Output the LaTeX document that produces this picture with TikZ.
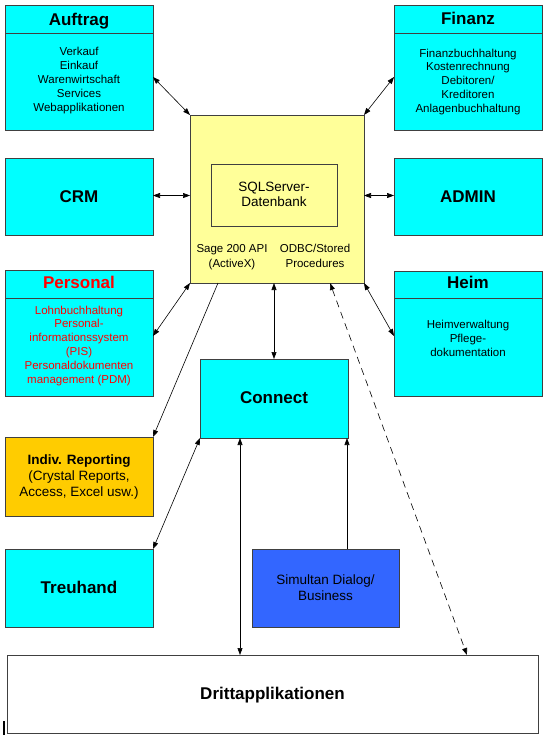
\documentclass[tikz,border=0pt]{standalone}
\usepackage{fontspec}
\setmainfont{Liberation Sans}
\usetikzlibrary{arrows.meta,calc}
\definecolor{boxcyan}{HTML}{00FFFF}
\definecolor{dbyellow}{HTML}{FFFF99}
\definecolor{repgold}{HTML}{FFCC00}
\definecolor{simblue}{HTML}{3366FF}
\definecolor{edgegray}{HTML}{404040}
\definecolor{persred}{HTML}{FF0000}
\begin{document}
\begin{tikzpicture}[x=1pt,y=-1pt,
  box/.style={draw=edgegray, line width=0.9pt, inner sep=0pt, outer sep=0pt, anchor=north west},
  cyanbox/.style={box, fill=boxcyan},
  titletext/.style={anchor=base, inner sep=0pt, font=\fontsize{17}{20}\selectfont\bfseries},
  bodytext/.style={anchor=base, inner sep=0pt, align=center, font=\fontsize{11.5}{14}\selectfont},
  midtext/.style={anchor=base, inner sep=0pt, align=center, font=\fontsize{13.5}{16}\selectfont},
  divider/.style={draw=edgegray, line width=0.9pt},
  link/.style={draw=black, line width=0.6pt, >={Triangle[length=7pt,width=5pt]}},
]
\useasboundingbox (0,0) rectangle (543,737);

% ---- boxes ----
\node[cyanbox, minimum width=148pt, minimum height=125pt] (auftrag) at (5,5) {};
\node[cyanbox, minimum width=148pt, minimum height=125pt] (finanz) at (394,5) {};
\node[box, fill=dbyellow, minimum width=174pt, minimum height=168pt] (sql) at (190,115) {};
\node[box, fill=dbyellow, minimum width=126pt, minimum height=62pt] (dbinner) at (211,164) {};
\node[cyanbox, minimum width=148pt, minimum height=77pt] (crm) at (5,158) {};
\node[cyanbox, minimum width=148pt, minimum height=77pt] (admin) at (394,158) {};
\node[cyanbox, minimum width=148pt, minimum height=126pt] (personal) at (5,270) {};
\node[cyanbox, minimum width=148pt, minimum height=125pt] (heim) at (394,271) {};
\node[cyanbox, minimum width=148pt, minimum height=79pt] (connect) at (200,359) {};
\node[box, fill=repgold, minimum width=148pt, minimum height=79pt] (indiv) at (5,437) {};
\node[cyanbox, minimum width=148pt, minimum height=78pt] (treuhand) at (5,549) {};
\node[box, fill=simblue, minimum width=147pt, minimum height=78pt] (simultan) at (252,549) {};
\node[box, fill=white, minimum width=531pt, minimum height=78pt] (dritt) at (7,655) {};

% ---- title dividers ----
\draw[divider] ([yshift=-28pt]auftrag.north west) -- ([yshift=-28pt]auftrag.north east);
\draw[divider] ([yshift=-28pt]finanz.north west) -- ([yshift=-28pt]finanz.north east);
\draw[divider] ([yshift=-28pt]personal.north west) -- ([yshift=-28pt]personal.north east);
\draw[divider] ([yshift=-27pt]heim.north west) -- ([yshift=-27pt]heim.north east);

% ---- texts (multi-line nodes: anchor=base is the last line's baseline) ----
\node[titletext] (tauftrag) at (79,25) {Auftrag};
\node[bodytext] (bauftrag) at (79,111) {Verkauf\\Einkauf\\Warenwirtschaft\\Services\\Webapplikationen};
\node[titletext] (tfinanz) at (468,24) {Finanz};
\node[bodytext, font=\fontsize{11.5}{13.75}\selectfont] (bfinanz) at (468,112) {Finanzbuchhaltung\\Kostenrechnung\\Debitoren/\\Kreditoren\\Anlagenbuchhaltung};
\node[titletext] (tcrm) at (79,202) {CRM};
\node[titletext] (tadmin) at (468,202) {ADMIN};
\node[titletext, text=persred] (tpersonal) at (79,288) {Personal};
\node[bodytext, text=persred, font=\fontsize{11.5}{13.9}\selectfont] (bpersonal) at (79,383.5) {Lohnbuchhaltung\\Personal-\\informationssystem\\(PIS)\\Personaldokumenten\\management (PDM)};
\node[titletext] (theim) at (468,288) {Heim};
\node[bodytext, font=\fontsize{11.5}{14.2}\selectfont] (bheim) at (468,356.5) {Heimverwaltung\\Pflege-\\dokumentation};
\node[midtext, font=\fontsize{13.5}{15}\selectfont] (tsql) at (274,206) {SQLServer-\\Datenbank};
\node[bodytext, font=\fontsize{11.5}{15}\selectfont] (tsage) at (232,267) {Sage 200 API\\(ActiveX)};
\node[bodytext, font=\fontsize{11.5}{15}\selectfont] (todbc) at (315,267) {ODBC/Stored\\Procedures};
\node[titletext] (tconnect) at (274,403) {Connect};
\node[midtext] (tindiv) at (79,496) {\textbf{Indiv. Reporting}\\(Crystal Reports,\\Access, Excel usw.)};
\node[titletext] (ttreuhand) at (79,593) {Treuhand};
\node[midtext] (tsimultan) at (325.5,600) {Simultan Dialog/\\Business};
\node[titletext] (tdritt) at (272.5,699) {Drittapplikationen};

% ---- connectors ----
\draw[link,<->] ([yshift=-72pt]auftrag.north east) -- (sql.north west);
\draw[link,<->] ([yshift=-72pt]finanz.north west) -- (sql.north east);
\draw[link,<->] ([yshift=1pt]crm.east) -- ([yshift=1pt]crm.east -| sql.west);
\draw[link,<->] ([yshift=1pt]admin.west) -- ([yshift=1pt]admin.west -| sql.east);
\draw[link,<->] ([yshift=-66pt]personal.north east) -- (sql.south west);
\draw[link,<->] ([yshift=-65pt]heim.north west) -- (sql.south east);
\draw[link,->] ([xshift=28pt]sql.south west) -- (indiv.north east);
\draw[link,<->] (connect.north |- sql.south) -- (connect.north);
\draw[link,<->, dash pattern=on 7pt off 5pt] ([xshift=140pt]sql.south west) -- ([xshift=460pt]dritt.north west);
\draw[link,<->] (connect.south west) -- (treuhand.north east);
\draw[link,<->] ([xshift=40pt]connect.south west) -- ([xshift=40pt]connect.south west |- dritt.north);
\draw[link,->] ([xshift=-1pt]connect.south east |- simultan.north) -- ([xshift=-1pt]connect.south east);

% ---- small mark at lower left ----
\draw[line width=1.5pt] (4,721) -- (4,735);
\end{tikzpicture}
\end{document}
